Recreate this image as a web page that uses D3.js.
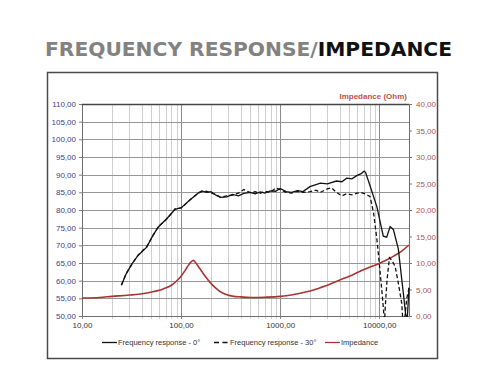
<!DOCTYPE html>
<html><head><meta charset="utf-8">
<script src="https://cdn.jsdelivr.net/npm/d3@7"></script>
<style>
html,body{margin:0;padding:0;background:#fff;}
svg{display:block;font-family:"Liberation Sans",Arial,sans-serif;}
</style></head>
<body>
<svg id="c" width="500" height="392"></svg>
<script>
// ---- data ----
const freq0 = [25,28,32,37,45,52,59,72,87,101,123,150,162,180,200,225,250,290,330,380,430,500,560,630,700,800,900,1000,1150,1300,1500,1700,2000,2300,2550,3000,3700,4200,4700,5300,6000,6600,7050,7300,8100,9500,11000,11900,12900,13900,15600,17600,18500,19200,20000];
const resp0 = [58.7,62.0,64.8,67.2,69.5,72.8,75.2,77.6,80.2,80.7,82.8,84.9,85.4,85.0,85.2,84.2,83.6,83.7,84.4,84.0,84.7,85.0,84.6,85.1,84.8,85.4,85.3,86.1,85.2,85.0,85.5,85.2,86.6,87.2,87.6,87.4,88.2,88.0,89.0,88.8,89.8,90.3,91.0,90.6,86.8,80.8,72.6,72.3,75.3,74.5,69.0,56.0,50.5,49.0,58.0];
const freq30 = [25,28,32,37,45,52,59,72,87,101,123,150,162,180,200,225,250,290,330,380,430,500,560,630,700,800,900,1000,1150,1300,1500,1700,2000,2300,2550,3000,3300,3700,4200,4700,5300,6000,6600,7300,8100,8800,9500,10100,10700,11000,11300,11600,12000,12700,13400,14500,15600,16900,17300,18000,19000,19700,20000];
const resp30 = [58.8,62.1,64.7,67.3,69.6,72.7,75.3,77.5,80.3,80.6,82.9,84.8,85.2,85.3,84.8,84.4,83.6,84.0,84.2,84.8,85.8,84.9,85.2,84.7,85.3,85.0,86.2,85.8,85.0,84.8,85.3,85.0,85.2,85.6,85.0,86.0,86.3,85.0,84.0,84.6,84.3,84.8,84.9,84.5,83.8,79.0,71.5,64.0,56.4,52.6,48.0,54.0,60.2,66.5,65.8,64.0,59.3,53.6,49.0,48.5,55.0,57.0,58.0];
const freqZ = [10,15,20,30,45,66,80,90,100,110,118,126,133,140,150,162,180,197,220,248,290,340,400,500,700,1000,1500,2000,2500,3000,4000,5000,6500,8000,10000,12000,14000,17000,20000];
const imped = [3.4,3.5,3.7,3.95,4.35,5.1,5.8,6.6,7.5,8.6,9.5,10.2,10.5,10.1,9.3,8.4,7.2,6.3,5.4,4.6,4.0,3.7,3.6,3.5,3.55,3.7,4.2,4.7,5.3,5.8,6.8,7.5,8.5,9.2,9.9,10.6,11.3,12.3,13.4];
const xTicks = [10,100,1000,10000];
const yLeftTicks = [50,55,60,65,70,75,80,85,90,95,100,105,110];
const yRightTicks = [0,5,10,15,20,25,30,35,40];
const legendLabels = ["Frequency response - 0°","Frequency response - 30°","Impedance"];

// ---- layout ----
const svg = d3.select("#c");
const L=82, R=409, T=104, B=316;
const x = d3.scaleLog().domain([10,20000]).range([L,R]);
const yL = d3.scaleLinear().domain([50,110]).range([B,T]);
const yR = d3.scaleLinear().domain([0,40]).range([B,T]);
const fmt = v => d3.format(".2f")(v).replace(".",",");

// title
const title = svg.append("text").attr("x",45).attr("y",56)
  .attr("font-family","'DejaVu Sans',sans-serif").attr("font-weight","bold").attr("font-size",19)
  .attr("textLength",407).attr("lengthAdjust","spacingAndGlyphs");
title.append("tspan").attr("fill","#828282").text("FREQUENCY RESPONSE/");
title.append("tspan").attr("fill","#111").text("IMPEDANCE");

// frame
svg.append("rect").attr("x",47.5).attr("y",72.5).attr("width",390).attr("height",286)
  .attr("fill","none").attr("stroke","#4a4a4a").attr("stroke-width",1.5);

// vertical grid
const minors = [];
for (let d=10; d<=10000; d*=10) for (let k=1;k<=9;k++){ const v=d*k; if(v<=20000) minors.push(v); }
minors.push(20000);
svg.append("g").selectAll("line").data(minors).join("line")
  .attr("x1",d=>Math.round(x(d))+0.5).attr("x2",d=>Math.round(x(d))+0.5)
  .attr("y1",T).attr("y2",B+3)
  .attr("stroke",d=>xTicks.includes(d)?"#8a8a8a":"#cfcfcf").attr("stroke-width",1);

// horizontal grid
svg.append("g").selectAll("line").data(yLeftTicks).join("line")
  .attr("x1",L).attr("x2",R).attr("y1",d=>Math.round(yL(d))+0.5).attr("y2",d=>Math.round(yL(d))+0.5)
  .attr("stroke","#969696").attr("stroke-width",1.2);

// plot border
svg.append("rect").attr("x",L+0.5).attr("y",T+0.5).attr("width",R-L).attr("height",B-T)
  .attr("fill","none").attr("stroke","#6e6e6e").attr("stroke-width",1);
svg.append("line").attr("x1",L).attr("x2",R).attr("y1",T+0.5).attr("y2",T+0.5).attr("stroke","#444").attr("stroke-width",1.5);

// axes
const axL = svg.append("g").attr("transform",`translate(${L},0)`)
  .call(d3.axisLeft(yL).tickValues(yLeftTicks).tickFormat(fmt).tickSize(3).tickPadding(3));
axL.select(".domain").remove();
axL.selectAll("line").attr("stroke","#777");
axL.selectAll("text").attr("fill","#3e3e86").attr("font-size",8).attr("font-family","'Liberation Sans',Arial,sans-serif");

const axR = svg.append("g").attr("transform",`translate(${R},0)`)
  .call(d3.axisRight(yR).tickValues(yRightTicks).tickFormat(fmt).tickSize(3).tickPadding(4));
axR.select(".domain").remove();
axR.selectAll("line").attr("stroke","#777");
axR.selectAll("text").attr("fill","#b05450").attr("font-size",8).attr("font-family","'Liberation Sans',Arial,sans-serif");

const axB = svg.append("g").attr("transform",`translate(0,${B})`)
  .call(d3.axisBottom(x).tickValues(xTicks).tickFormat(fmt).tickSize(0).tickPadding(6));
axB.select(".domain").remove();
axB.selectAll("text").attr("fill","#333").attr("font-size",8).attr("font-family","'Liberation Sans',Arial,sans-serif");

// impedance label
svg.append("text").attr("x",R-2).attr("y",99).attr("text-anchor","end")
  .attr("fill","#c0504d").attr("font-size",8).attr("font-weight","bold").text("Impedance (Ohm)");

// clip
svg.append("clipPath").attr("id","clip").append("rect").attr("x",L).attr("y",T).attr("width",R-L+1).attr("height",B-T+1);
const g = svg.append("g").attr("clip-path","url(#clip)");

const lineZ = d3.line().x((d,i)=>x(freqZ[i])).y(d=>yR(d)).curve(d3.curveMonotoneX);
g.append("path").attr("d",lineZ(imped)).attr("fill","none").attr("stroke","#a83532").attr("stroke-width",1.6);

const line30 = d3.line().x((d,i)=>x(freq30[i])).y(d=>yL(d));
g.append("path").attr("d",line30(resp30)).attr("fill","none").attr("stroke","#111")
  .attr("stroke-width",1.3).attr("stroke-dasharray","4,2.5");

const line0 = d3.line().x((d,i)=>x(freq0[i])).y(d=>yL(d));
g.append("path").attr("d",line0(resp0)).attr("fill","none").attr("stroke","#111").attr("stroke-width",1.3);

// legend
const lg = svg.append("g").attr("font-size",7.5).attr("fill","#333");
const items = [
  {x:102, dash:null, color:"#111"},
  {x:214, dash:"5,3.5", color:"#111"},
  {x:325, dash:null, color:"#a83532"}
];
items.forEach((it,i)=>{
  lg.append("line").attr("x1",it.x).attr("x2",it.x+15).attr("y1",342.5).attr("y2",342.5)
    .attr("stroke",it.color).attr("stroke-width",1.3).attr("stroke-dasharray",it.dash);
  lg.append("text").attr("x",it.x+16).attr("y",345).text(legendLabels[i]);
});
</script>
</body></html>
